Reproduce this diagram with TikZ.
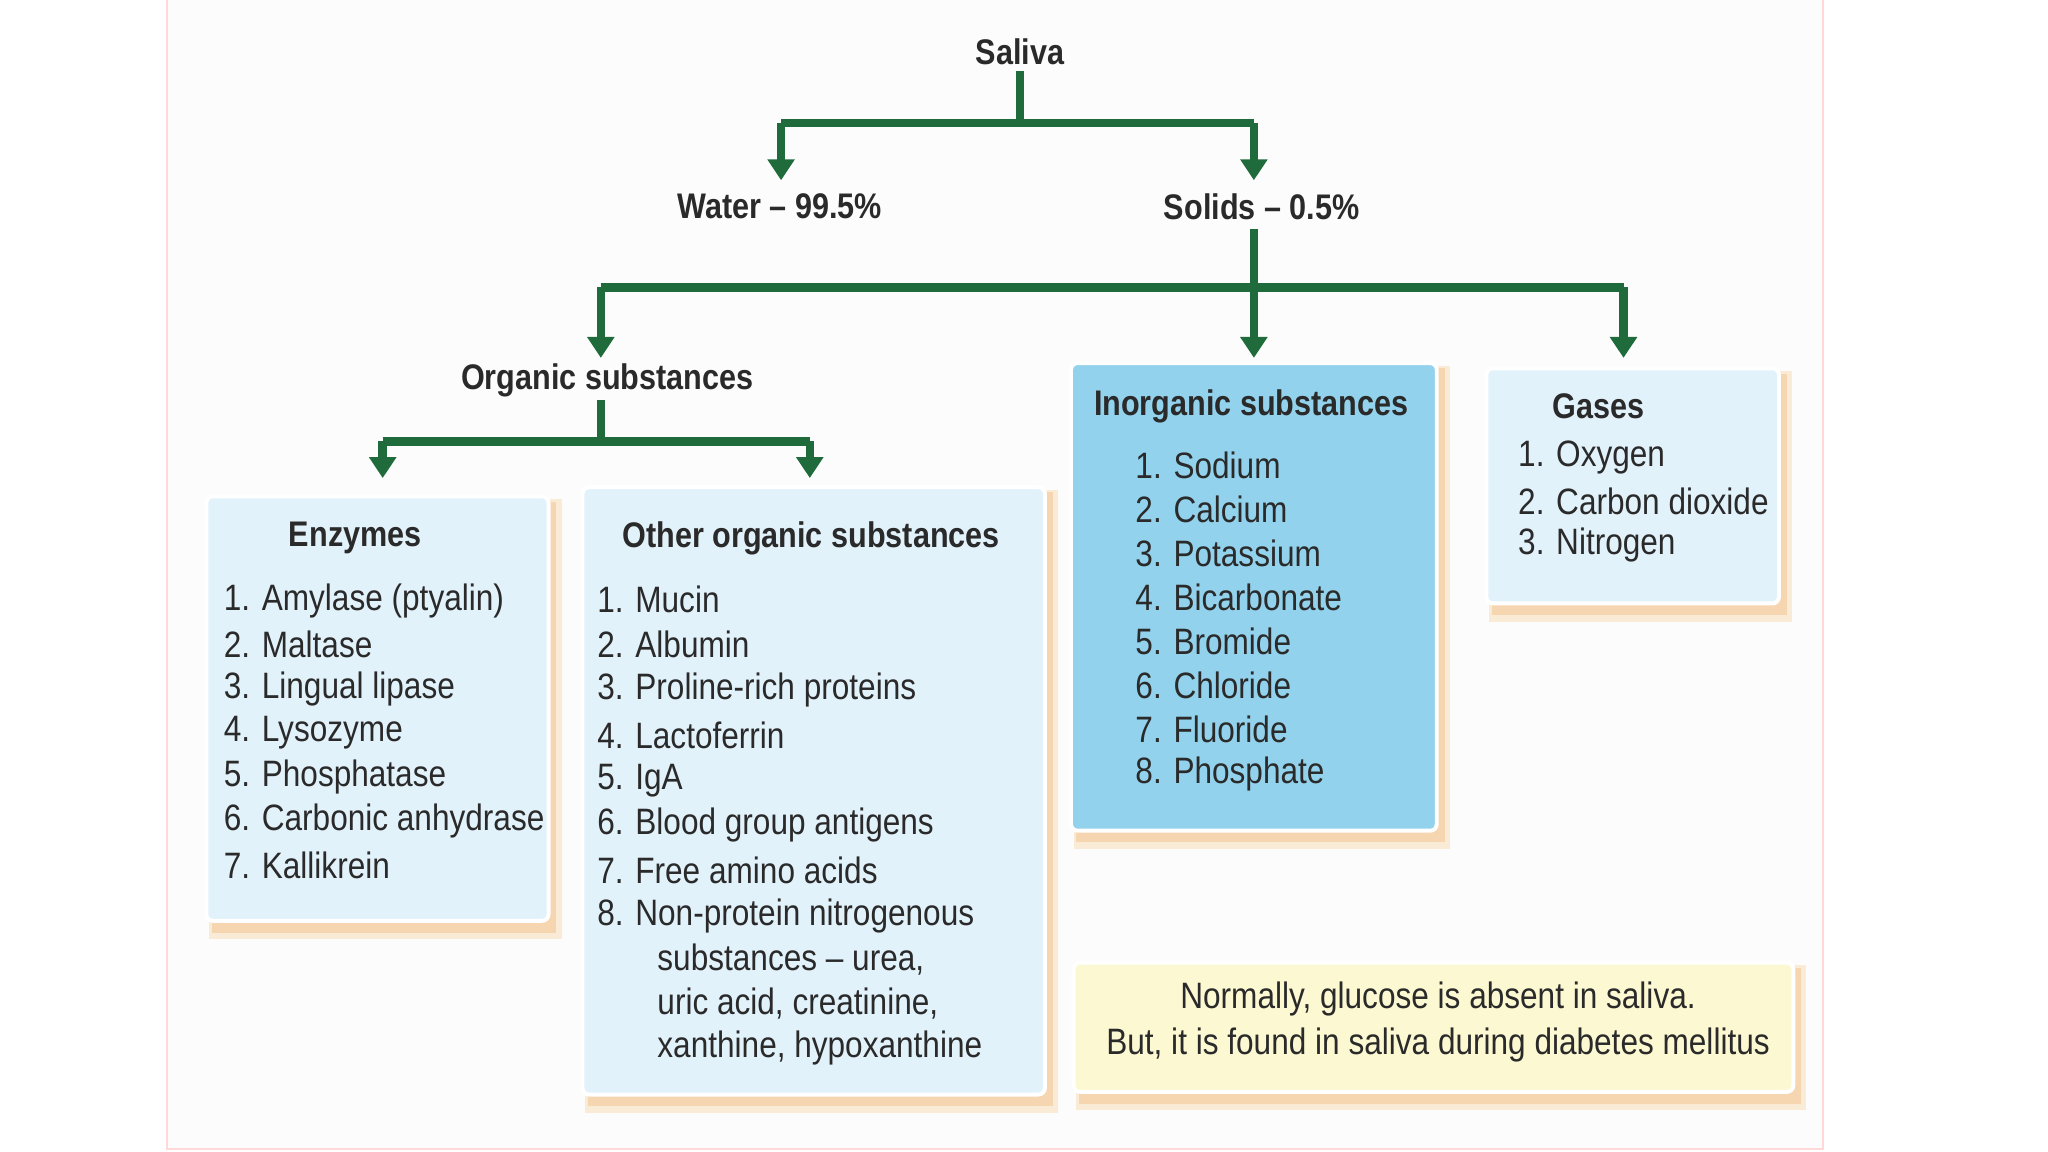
\documentclass[tikz,border=0pt]{standalone}
\usepackage{fontspec}
\setmainfont[FakeStretch=0.86]{Liberation Sans}
\usetikzlibrary{arrows.meta}
\definecolor{grn}{HTML}{1F6B3C}
\definecolor{lb}{HTML}{E2F2FB}
\definecolor{ib}{HTML}{92D2EC}
\definecolor{yl}{HTML}{FCF8D2}
\definecolor{shd}{HTML}{F6D6B0}
\definecolor{txt}{HTML}{2A2A2A}
\tikzset{
 conn/.style={draw=grn,line width=1.3mm},
 arr/.style={conn,-{Triangle[length=3.2mm,width=4mm]}},
 ttl/.style={font=\fontsize{15.5}{18}\selectfont\bfseries,text=txt,inner sep=0pt},
 itm/.style={font=\fontsize{16}{19}\selectfont,text=txt,anchor=west,inner sep=0pt},
 boxsh/.style={fill=shd,draw=none,rounded corners=2mm},
}
\newcommand{\mybox}[5]{%
 \fill[shd!50] (#1+2,#4+2) rectangle (#2+10,#3+14);
 \fill[shd] (#1+4,#4+4) rectangle (#2+6,#3+9);
 \fill[#5,rounded corners=1mm] (#1,#4) rectangle (#2,#3);
 \draw[white,line width=0.6mm,rounded corners=1mm] (#1,#4) rectangle (#2,#3);}
\begin{document}
\begin{tikzpicture}[x=0.02cm,y=-0.02cm]
\useasboundingbox (0,0) rectangle (1568,882);
\fill[white] (0,0) rectangle (1568,882);
\draw[red!15,line width=0.3mm,fill=gray!2] (128,-2) rectangle (1396,880);
% boxes
\mybox{158}{420}{705}{380}{lb}
\mybox{446}{800}{838}{373}{lb}
\mybox{820}{1100}{636}{278}{ib}
\mybox{1138}{1362}{462}{282}{lb}
\mybox{822}{1373}{836}{737}{yl}
% titles
\node[ttl] (saliva) at (781,40) {Saliva};
\node[ttl] (water) at (597,158) {Water – 99.5\%};
\node[ttl] (solids) at (966,158) {Solids – 0.5\%};
\node[ttl] (organic) at (465,291) {Organic substances};
\node[ttl] (enz) at (272,412) {Enzymes};
\node[ttl] (other) at (621,412) {Other organic substances};
\node[ttl] (inorg) at (958,311) {Inorganic substances};
\node[ttl] (gas) at (1224,311) {Gases};
% connectors
\coordinate (j1) at (781,94);
\coordinate (w1) at (598,94); \coordinate (s1) at (960,94);
\coordinate (j2) at (960,220);
\coordinate (o1) at (460,220); \coordinate (g1) at (1243,220);
\coordinate (j3) at (460,338);
\coordinate (e1) at (293,338); \coordinate (t1) at (620,338);
\draw[conn] (saliva.south) ++(0,4) -- (j1);
\draw[conn] (w1) -- (s1);
\draw[arr] (w1) -- (598,138) coordinate (wt);
\draw[arr] (s1) -- (960,138) coordinate (st);
\draw[conn] (960,175) -- (j2);
\draw[conn] (o1) -- (g1);
\draw[arr] (o1) -- (460,274);
\draw[arr] (j2) -- (960,274);
\draw[arr] (g1) -- (1243,274);
\draw[conn] (460,306) -- (j3);
\draw[conn] (e1) -- (t1);
\draw[arr] (e1) -- (293,366);
\draw[arr] (t1) -- (620,366);
% items
\foreach \t [count=\i] in {1. Amylase (ptyalin),2. Maltase,3. Lingual lipase,4. Lysozyme,5. Phosphatase,6. Carbonic anhydrase,7. Kallikrein}
 \node[itm] (e\i) at (171,{460+(\i-1)*33.7}) {\t};
\foreach \t [count=\i] in {1. Mucin,2. Albumin,3. Proline-rich proteins,4. Lactoferrin,5. IgA,6. Blood group antigens,7. Free amino acids,8. Non-protein nitrogenous}
 \node[itm] (o\i) at (457,{459+(\i-1)*34.6}) {\t};
\node[itm] (oc1) at (503,735) {substances – urea,};
\node[itm] (oc2) at (503,768) {uric acid, creatinine,};
\node[itm] (oc3) at (503,802) {xanthine, hypoxanthine};
\foreach \t [count=\i] in {1. Sodium,2. Calcium,3. Potassium,4. Bicarbonate,5. Bromide,6. Chloride,7. Fluoride,8. Phosphate}
 \node[itm] (i\i) at (869,{356+(\i-1)*33.8}) {\t};
\foreach \t [count=\i] in {1. Oxygen,2. Carbon dioxide,3. Nitrogen}
 \node[itm] (g\i) at (1162,{350+(\i-1)*33.6}) {\t};
\node[itm,anchor=center] (n1) at (1101,765) {Normally, glucose is absent in saliva.};
\node[itm,anchor=center] (n2) at (1101,800) {But, it is found in saliva during diabetes mellitus};
\end{tikzpicture}
\end{document}
